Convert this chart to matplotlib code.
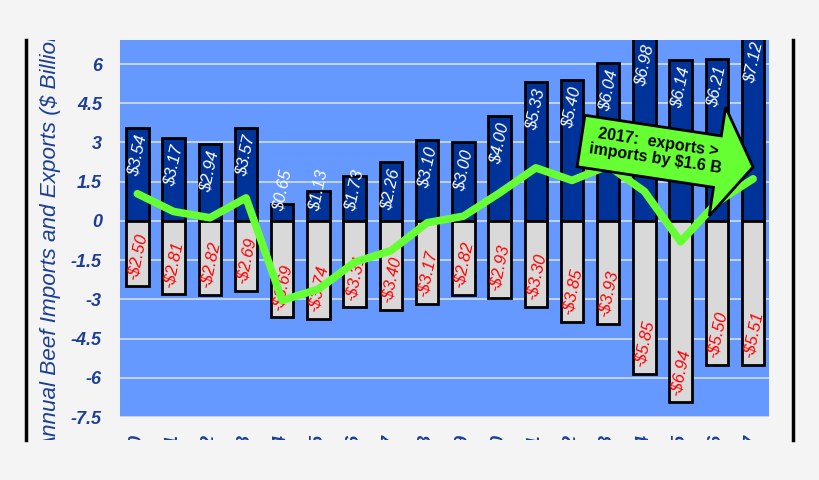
import matplotlib
matplotlib.use("Agg")
import matplotlib.pyplot as plt
import numpy as np
from matplotlib.patches import Rectangle, FancyArrow
from matplotlib.lines import Line2D
from matplotlib.transforms import IdentityTransform

# data
years = ["2000", "2001", "2002", "2003", "2004", "2005", "2006", "2007", "2008",
         "2009", "2010", "2011", "2012", "2013", "2014", "2015", "2016", "2017"]
exports = [3.54, 3.17, 2.94, 3.57, 0.65, 1.13, 1.73, 2.26, 3.10,
           3.00, 4.00, 5.33, 5.40, 6.04, 6.98, 6.14, 6.21, 7.12]
imports = [-2.50, -2.81, -2.82, -2.69, -3.69, -3.74, -3.31, -3.40, -3.17,
           -2.82, -2.93, -3.30, -3.85, -3.93, -5.85, -6.94, -5.50, -5.51]
ytick_vals = [6, 4.5, 3, 1.5, 0, -1.5, -3, -4.5, -6, -7.5]
ytick_labels = ["6", "4.5", "3", "1.5", "0", "-1.5", "-3", "-4.5", "-6", "-7.5"]

BG = "#f4f4f4"
PLOT_BG = "#6699ff"
NAVY = "#003399"
GREY = "#d9d9d9"
GREEN = "#66ff33"
TEXT_BLUE = "#1c3f94"

plt.rcParams["font.family"] = ["Liberation Sans", "DejaVu Sans"]

fig = plt.figure(figsize=(8.2, 4.8), dpi=100, facecolor=BG)
ax = fig.add_axes([120 / 820, 63 / 480, 649 / 820, 377 / 480])
ax.set_facecolor(PLOT_BG)

x = np.arange(len(years))
net = np.array(exports) + np.array(imports)

ax.bar(x, exports, width=0.62, color=NAVY, edgecolor="black", linewidth=2, zorder=2)
ax.bar(x, imports, width=0.62, color=GREY, edgecolor="black", linewidth=2, zorder=2)

# value labels, rotated like the original
for xi, v in zip(x, exports):
    yc = max(v - 1.05, 1.15)
    ax.text(xi, yc, f"${v:.2f}", rotation=78, ha="center", va="center",
            rotation_mode="anchor", color="white", style="italic",
            fontsize=12, zorder=3)
for xi, v in zip(x, imports):
    yc = v + 1.15
    ax.text(xi, yc, f"-${abs(v):.2f}", rotation=78, ha="center", va="center",
            rotation_mode="anchor", color="red", style="italic",
            fontsize=12, zorder=3)

ax.plot(x, net, color=GREEN, linewidth=5.5, solid_joinstyle="round",
        solid_capstyle="round", zorder=4)

ax.set_xlim(-0.48, 17.44)
ax.set_ylim(-7.5, 6.92)
ax.set_yticks(ytick_vals)
ax.set_yticklabels(ytick_labels, color=TEXT_BLUE, fontsize=13,
                   fontweight="bold", style="italic")
ax.set_xticks(x)
ax.set_xticklabels(years, rotation=90, color=TEXT_BLUE, fontsize=13,
                   fontweight="bold", style="italic")
ax.tick_params(axis="y", length=0, pad=13)
ax.tick_params(axis="x", length=0, pad=13)
ax.yaxis.grid(True, color="#d0defc", linewidth=1.2, zorder=1)
ax.set_axisbelow(True)
for s in ax.spines.values():
    s.set_visible(False)

fig.text(52 / 820, 1 - 231 / 480, "Annual Beef Imports and Exports ($ Billions)",
         rotation=90, ha="center", va="center", color=TEXT_BLUE,
         fontsize=16.2, style="italic")

# callout arrow
arrow = FancyArrow(581, 339, 172, -26, width=52, head_width=110, head_length=36,
                   length_includes_head=True, facecolor=GREEN, edgecolor="black",
                   linewidth=2, transform=IdentityTransform(), zorder=5)
fig.add_artist(arrow)
fig.text(657 / 820, 1 - 151 / 480, "2017:  exports >\nimports by $1.6 B",
         rotation=-8.6, ha="center", va="center", fontsize=11.5,
         fontweight="bold", color="black", linespacing=1.1, zorder=6)

# the original picture is cut at the top and bottom
fig.add_artist(Rectangle((0, 0), 1, 40 / 480, transform=fig.transFigure,
                         facecolor=BG, edgecolor="none", zorder=20))
fig.add_artist(Rectangle((0, 440 / 480), 1, 40 / 480, transform=fig.transFigure,
                         facecolor=BG, edgecolor="none", zorder=20))
for xl in (26 / 820, 793 / 820):
    fig.add_artist(Line2D([xl, xl], [40 / 480, 440 / 480], transform=fig.transFigure,
                          color="black", linewidth=2.5, zorder=21))

fig.savefig("out.png", dpi=100, facecolor=BG)
